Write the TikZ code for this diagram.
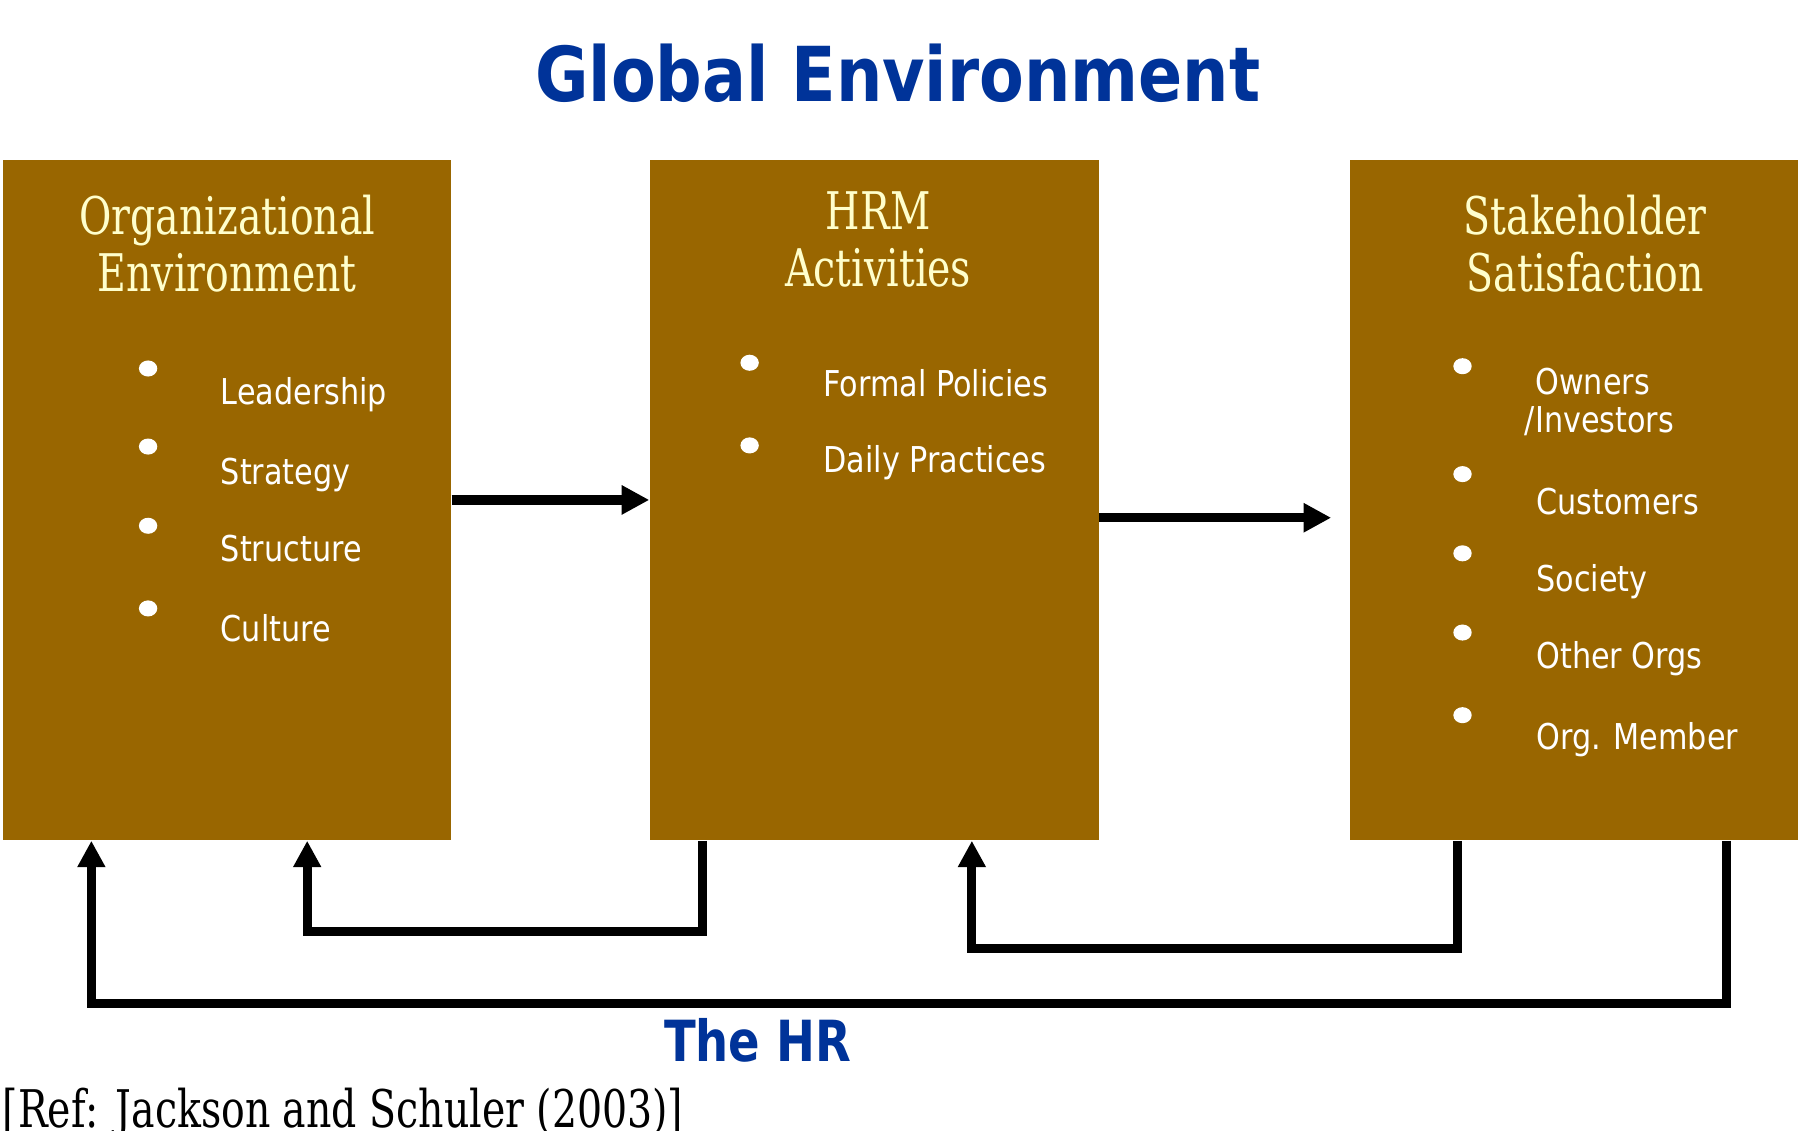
\documentclass[tikz,border=0pt]{standalone}
\usepackage{fontspec}
\setmainfont{DejaVu Serif}
\newfontfamily\titlefont[FakeStretch=0.86]{DejaVu Sans}
\newfontfamily\hrfont[FakeStretch=0.82]{DejaVu Sans}
\newfontfamily\boxtitlefont[FakeStretch=0.76]{DejaVu Serif}
\newfontfamily\itemfont[FakeStretch=0.85]{DejaVu Sans}
\newfontfamily\reffont[FakeStretch=0.76]{DejaVu Serif}
\usetikzlibrary{arrows.meta,calc,shapes.geometric}
\definecolor{boxbrown}{HTML}{996600}
\definecolor{titleblue}{HTML}{003399}
\definecolor{cream}{HTML}{FFFFCC}
\tikzset{
  panel/.style={fill=boxbrown, draw=none, minimum width=195pt, minimum height=296.5pt, inner sep=0pt},
  paneltitle/.style={text=cream, font=\boxtitlefont\fontsize{22.6}{25}\selectfont, inner sep=0pt, anchor=base},
  item/.style={text=white, font=\itemfont\fontsize{15.5}{18}\selectfont, inner sep=0pt, anchor=base west},
  dot/.style={fill=white, draw=none, ellipse, minimum width=8pt, minimum height=7pt, inner sep=0pt},
  flow/.style={line width=4pt, -{Triangle[length=12pt,width=12pt]}},
  fb/.style={line width=4pt, -{Triangle[length=11.5pt,width=11.5pt]}},
  bigtitle/.style={text=titleblue, font=\titlefont\bfseries\fontsize{33}{38}\selectfont, inner sep=0pt, anchor=base}
}
\begin{document}
\begin{tikzpicture}[x=0.5pt,y=-0.5pt]
\useasboundingbox (0,0) rectangle (1568,985);
% title
\node[bigtitle] (title) at (782,88) {Global Environment};
% panels
\node[panel] (org) at (198,435.5) {};
\node[panel, minimum width=195.5pt] (hrm) at (761.5,435.5) {};
\node[panel] (stake) at (1371,435.5) {};
% panel titles
\node[paneltitle] (orgt1) at (198,204) {Organizational};
\node[paneltitle] (orgt2) at (198,254) {Environment};
\node[paneltitle] (hrmt1) at (765,200) {HRM};
\node[paneltitle] (hrmt2) at (765,250) {Activities};
\node[paneltitle] (stt1) at (1381,204) {Stakeholder};
\node[paneltitle] (stt2) at (1381,254) {Satisfaction};
% org items
\node[dot] (od1) at (129,321) {};
\node[dot] (od2) at (129,389) {};
\node[dot] (od3) at (129,458) {};
\node[dot] (od4) at (129,530) {};
\node[item] (oi1) at (192,352) {Leadership};
\node[item] (oi2) at (192,422) {Strategy};
\node[item] (oi3) at (192,489) {Structure};
\node[item] (oi4) at (192,559) {Culture};
% hrm items
\node[dot] (hd1) at (653,316) {};
\node[dot] (hd2) at (653,388) {};
\node[item] (hi1) at (717,345) {Formal Policies};
\node[item] (hi2) at (717,412) {Daily Practices};
% stakeholder items
\node[dot] (sd1) at (1274,319) {};
\node[dot] (sd2) at (1274,413) {};
\node[dot] (sd3) at (1274,482) {};
\node[dot] (sd4) at (1274,551) {};
\node[dot] (sd5) at (1274,623) {};
\node[item] (si1a) at (1337,344) {Owners};
\node[item] (si1b) at (1328,377) {/Investors};
\node[item] (si2) at (1338,448) {Customers};
\node[item] (si3) at (1338,515) {Society};
\node[item] (si4) at (1338,582) {Other Orgs};
\node[item] (si5) at (1338,653) {Org. Member};
% forward arrows
\draw[flow] (org.east) -- (hrm.west);
\draw[flow, shorten >=8pt] ([yshift=-7.75pt]hrm.east) -- ([yshift=-7.75pt]stake.west);
% feedback loops
\draw[fb] ($(hrm.south west)+(46,0)$) -- ++(0,79) -| ($(org.south west)+(265,0)$);
\draw[fb] ($(stake.south west)+(94,0)$) -- ++(0,94) -| ($(hrm.south west)+(281,0)$);
\draw[fb] ($(stake.south west)+(328,0)$) -- ++(0,142) -| ($(org.south west)+(77,0)$);
% bottom labels
\node[bigtitle, font=\hrfont\bfseries\fontsize{24.7}{28}\selectfont] (thehr) at (660,925) {The HR};
\node[inner sep=0pt, anchor=base west, font=\reffont\fontsize{22.6}{25}\selectfont] (ref) at (2,982) {[Ref: Jackson and Schuler (2003)]};
\end{tikzpicture}
\end{document}
